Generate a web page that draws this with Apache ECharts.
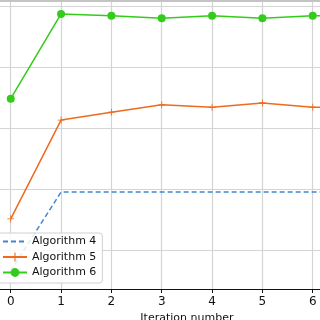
<!DOCTYPE html>
<html>
<head>
<meta charset="utf-8">
<script src="https://cdn.jsdelivr.net/npm/echarts@6/dist/echarts.min.js"></script>
<style>html,body{margin:0;padding:0;background:#fff}#c{width:320px;height:320px}</style>
</head>
<body>
<div id="c"></div>
<script>
// Data (y in gridline units; y-axis labels are cropped out of the reference)
var iterations = [0, 1, 2, 3, 4, 5, 6, 7];
var algorithm4 = [0.66, 1.95, 1.95, 1.95, 1.95, 1.95, 1.95, 1.95];
var algorithm5 = [1.51, 3.13, 3.26, 3.38, 3.34, 3.41, 3.34, 3.34];
var algorithm6 = [3.48, 4.87, 4.84, 4.80, 4.84, 4.80, 4.84, 4.85];
var gridLevels = [1, 2, 3, 4, 5];
var seriesNames = ['Algorithm 4', 'Algorithm 5', 'Algorithm 6'];
var xAxisTitle = 'Iteration number';

function pairs(ys) { return iterations.map(function (x, i) { return [x, ys[i]]; }); }

var chart = echarts.init(document.getElementById('c'), null, { renderer: 'canvas' });
var font = 'DejaVu Sans';
chart.setOption({
  animation: false,
  backgroundColor: '#ffffff',
  textStyle: { fontFamily: font },
  grid: { left: -39.6, right: -93.4, top: 0, bottom: 31, containLabel: false, outerBoundsMode: 'none' },
  xAxis: {
    type: 'value', min: -1, max: 8, interval: 1,
    name: xAxisTitle, nameLocation: 'middle', nameGap: 24,
    nameTextStyle: { color: '#111', fontSize: 11, fontFamily: font },
    axisLine: { show: true, lineStyle: { color: '#111', width: 1 } },
    axisTick: { show: true, length: 4, lineStyle: { color: '#111', width: 1 } },
    axisLabel: { color: '#111', fontSize: 12, margin: 7, fontFamily: font },
    splitLine: { show: true, lineStyle: { color: '#d4d4d4', width: 1.2 } }
  },
  yAxis: {
    type: 'value', min: 1 - 39 / 61, max: 5 + 6 / 61,
    axisLine: { show: false }, axisTick: { show: false }, axisLabel: { show: false },
    splitLine: { show: false }
  },
  legend: {
    data: [
      { name: seriesNames[0], itemStyle: { color: 'rgba(0,0,0,0)', borderWidth: 0, opacity: 0 } },
      { name: seriesNames[1] },
      { name: seriesNames[2] }
    ],
    orient: 'vertical', left: -4, top: 233,
    itemWidth: 24, itemHeight: 11, itemGap: 4.5,
    padding: [3, 6, 5, 6],
    backgroundColor: 'rgba(255,255,255,0.85)', borderColor: '#d0d0d0', borderWidth: 1, borderRadius: 3,
    textStyle: { color: '#111', fontSize: 11, fontFamily: font }
  },
  graphic: [{ type: 'rect', left: 0, top: 0, shape: { width: 320, height: 2 }, style: { fill: '#c4c4c4' }, z: 100 }],
  series: [
    {
      name: seriesNames[0], type: 'line', data: pairs(algorithm4),
      symbol: 'none', color: '#3f86cc',
      lineStyle: { type: [5, 3], width: 1.5, color: '#3f86cc' },
      markLine: {
        silent: true, symbol: 'none', label: { show: false },
        lineStyle: { color: '#d4d4d4', type: 'solid', width: 1.2 },
        data: gridLevels.map(function (v) { return { yAxis: v }; }),
        z: 0
      },
      z: 3
    },
    {
      name: seriesNames[1], type: 'line', data: pairs(algorithm5),
      symbol: 'path://M4.4,0H5.6V4.4H10V5.6H5.6V10H4.4V5.6H0V4.4H4.4Z', symbolSize: 7,
      color: '#ee6a1c', lineStyle: { width: 1.5, color: '#ee6a1c' },
      itemStyle: { color: '#ee6a1c' }, z: 3
    },
    {
      name: seriesNames[2], type: 'line', data: pairs(algorithm6),
      symbol: 'circle', symbolSize: 8,
      color: '#33cc1a', lineStyle: { width: 1.5, color: '#33cc1a' },
      itemStyle: { color: '#33cc1a' }, z: 3
    }
  ]
});
</script>
</body>
</html>
